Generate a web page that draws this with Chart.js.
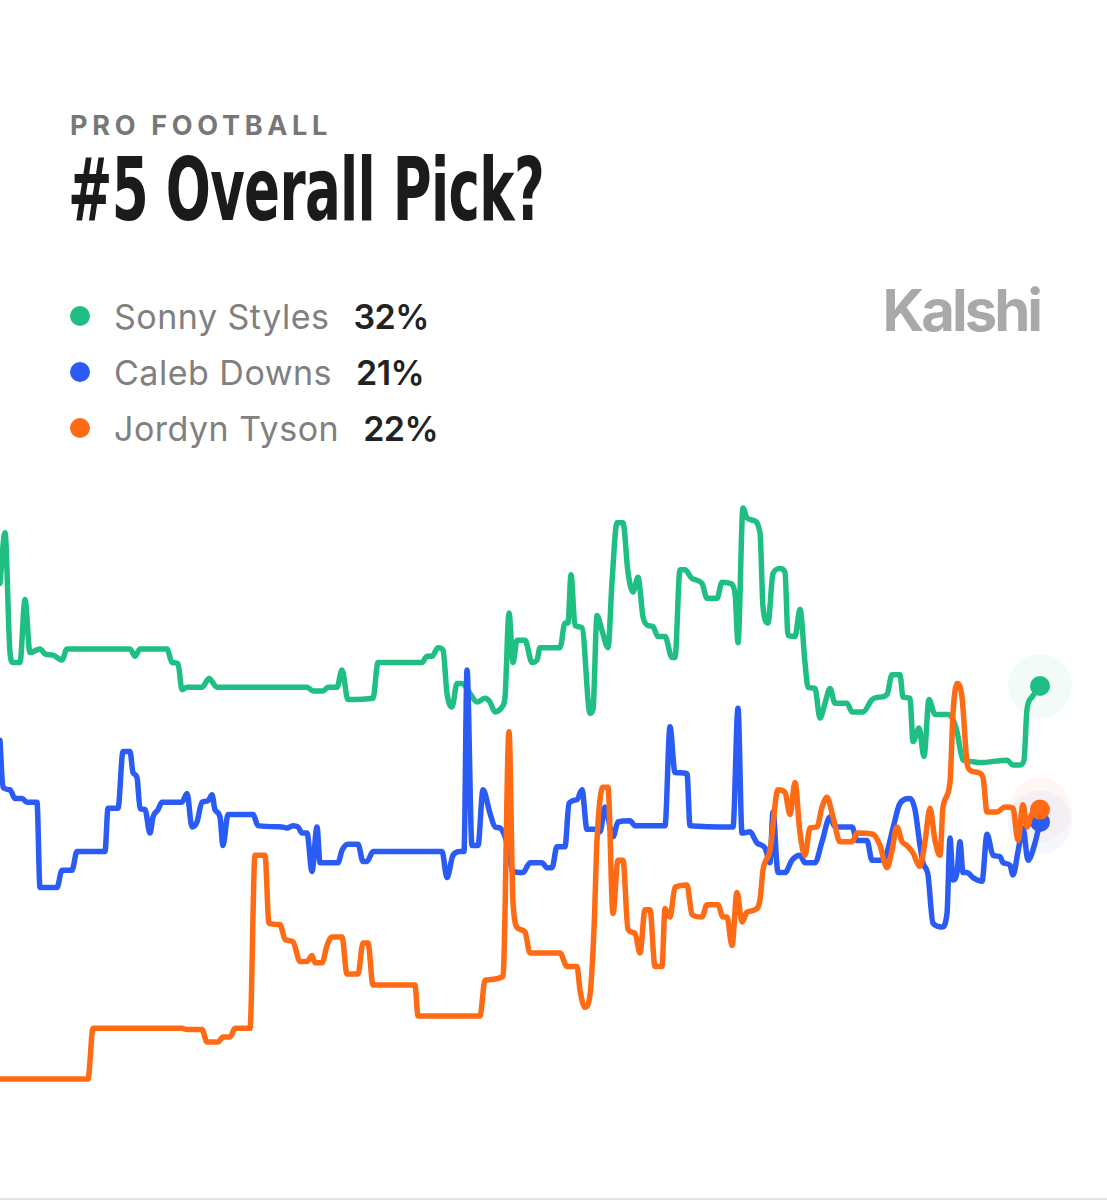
<!DOCTYPE html>
<html lang="en">
  <head>
    <meta charset="UTF-8" />
    <title>#5 Overall Pick?</title>
    <style>
      body {
        margin: 0;
        background: #fff;
        width: 1107px;
        height: 1200px;
        overflow: hidden;
        position: relative;
        font-family: Inter, "Noto Sans", sans-serif;
      }
      .kicker {
        position: absolute;
        left: 70px;
        top: 112px;
        font-size: 27px;
        font-weight: 700;
        letter-spacing: 4.7px;
        color: #777;
        line-height: 1;
      }
      .title {
        position: absolute;
        left: 68px;
        top: 146px;
        font-family: "Liberation Sans Narrow", "DejaVu Sans Condensed", sans-serif;
        font-size: 88px;
        font-weight: 700;
        letter-spacing: -1px;
        color: #1b1b1b;
        line-height: 1;
        transform: scaleX(0.67);
        transform-origin: left top;
        white-space: nowrap;
      }
      .legend {
        position: absolute;
        left: 70px;
        top: 288px;
      }
      .row {
        display: flex;
        align-items: center;
        height: 56px;
      }
      .dot {
        width: 20px;
        height: 20px;
        border-radius: 50%;
        margin-right: 24px;
      }
      .name {
        font-size: 34px;
        color: #808080;
        letter-spacing: 0.5px;
        margin-right: 24px;
      }
      .pct {
        font-size: 34px;
        font-weight: 600;
        letter-spacing: -0.5px;
        color: #222;
      }
      .brand {
        position: absolute;
        right: 67px;
        top: 281px;
        font-size: 58px;
        font-weight: 700;
        letter-spacing: -3px;
        color: #a9a9a9;
        line-height: 1;
      }
      #chart {
        position: absolute;
        left: 0;
        top: 0;
      }
      .edge {
        position: absolute;
        left: 0;
        right: 0;
        bottom: 0;
        height: 2px;
        background: #e4e4e4;
      }
    </style>
  </head>
  <body>
    <div class="kicker">PRO FOOTBALL</div>
    <div class="title">#5 Overall Pick?</div>
    <div class="legend" id="legend"></div>
    <div class="brand">Kalshi</div>
    <canvas id="chart" width="1107" height="1200"></canvas>
    <div class="edge"></div>

    <script src="https://cdn.jsdelivr.net/npm/chart.js@4.4.1/dist/chart.umd.min.js"></script>
    <script>
      // names and latest odds (%)
      const names = ['Sonny Styles', 'Caleb Downs', 'Jordyn Tyson'];
      const latest = [32, 21, 22];
      const colors = ['#1fbf84', '#2a5cf5', '#ff6b14'];

      // [time step, chance %]
      const sonnyStyles = [
        [0,40.3],[5,44.4],[10,34.7],[13,33.9],[20,33.9],[25,39.0],[30,34.7],[40,35.0],[45,34.6],[53,34.5],
        [62,34.1],[67,35.0],[130,35.0],[135,34.4],[140,35.0],[167,35.0],[172,33.9],[178,33.8],[182,31.7],
        [187,31.9],[202,31.9],[209,32.6],[217,31.9],[307,31.9],[313,31.6],[323,31.6],[328,31.9],[337,31.9],
        [342,33.3],[348,30.9],[373,31.0],[378,33.9],[422,33.9],[427,34.4],[432,34.4],[438,35.1],[443,34.9],
        [447,31.4],[452,30.3],[457,32.2],[462,32.2],[470,31.4],[477,30.7],[485,31.0],[490,30.7],[495,29.9],
        [502,30.3],[505,31.1],[509,37.9],[513,33.9],[517,35.7],[525,35.7],[532,33.9],[537,34.1],[540,35.1],
        [560,35.1],[565,37.1],[568,37.1],[571,41.0],[575,36.9],[582,36.7],[590,29.8],[593,30.1],[597,37.7],
        [602,36.5],[608,35.1],[612,40.4],[617,45.2],[623,45.2],[628,41.2],[633,39.6],[638,40.8],[643,37.6],
        [648,36.9],[653,36.8],[658,36.0],[665,36.0],[672,34.3],[675,34.3],[680,41.4],[685,41.4],[692,40.7],
        [702,40.3],[707,39.1],[717,39.1],[722,40.4],[730,40.3],[735,39.5],[738,35.5],[743,46.4],[747,45.6],
        [753,45.4],[760,44.4],[763,38.4],[768,37.1],[773,41.1],[780,41.5],[785,41.2],[788,36.1],[795,36.0],
        [800,38.2],[805,33.9],[808,31.9],[815,31.8],[820,29.4],[825,30.6],[830,31.8],[835,30.6],[847,30.6],
        [852,29.9],[863,29.9],[872,30.9],[880,31.1],[887,31.3],[892,32.9],[900,32.9],[903,31.1],[910,31.0],
        [913,27.5],[919,28.6],[924,26.3],[929,30.9],[935,29.7],[948,29.7],[953,29.3],[957,28.3],[963,26.0],
        [970,25.9],[980,25.8],[1007,26.0],[1013,25.6],[1020,25.6],[1024,26.0],[1027,30.1],[1032,31.1],[1040,32.0]
      ];
      const calebDowns = [
        [0,27.6],[3,23.8],[10,23.6],[15,22.9],[22,22.9],[27,22.6],[37,22.6],[40,15.7],[57,15.7],[62,17.1],
        [72,17.1],[77,18.6],[105,18.6],[108,22.1],[118,22.1],[123,26.7],[130,26.7],[133,25.0],[137,24.6],
        [140,22.1],[145,22.0],[150,20.1],[153,21.4],[158,22.0],[162,22.6],[182,22.6],[187,23.3],[192,20.6],
        [197,21.0],[202,22.6],[208,22.7],[212,23.2],[215,22.0],[220,21.4],[223,19.1],[228,21.6],[253,21.6],
        [258,20.7],[282,20.6],[287,20.5],[293,20.7],[298,20.6],[302,20.1],[307,20.1],[312,17.0],[317,20.6],
        [320,17.7],[338,17.7],[342,18.7],[348,19.2],[358,19.2],[363,17.8],[367,17.8],[373,18.6],[442,18.6],
        [447,16.5],[453,18.3],[460,18.6],[464,18.6],[467,33.3],[472,19.1],[478,19.1],[483,23.6],[490,21.7],
        [495,20.6],[500,20.5],[507,19.3],[513,17.0],[523,16.9],[530,17.7],[542,17.7],[547,17.3],[552,17.3],
        [557,19.0],[565,19.0],[569,22.5],[577,22.8],[582,23.6],[587,20.4],[595,20.4],[600,20.2],[605,22.2],
        [613,19.8],[618,21.0],[630,21.1],[635,20.7],[665,20.7],[670,28.7],[675,25.0],[687,24.9],[690,20.7],
        [733,20.6],[738,30.2],[742,20.1],[750,20.2],[757,19.3],[765,18.9],[770,17.7],[773,21.8],[778,16.9],
        [785,16.9],[792,17.9],[800,18.3],[805,17.7],[815,17.7],[822,19.4],[830,21.4],[835,20.6],[852,20.6],
        [857,19.5],[867,19.5],[872,17.9],[880,17.9],[885,18.1],[893,20.5],[900,22.5],[910,22.9],[915,22.0],
        [920,19.1],[923,17.7],[928,16.7],[933,12.8],[942,12.5],[947,13.6],[950,19.7],[953,16.3],[957,16.9],
        [960,19.4],[963,16.9],[967,16.9],[973,16.5],[982,16.2],[987,20.0],[993,18.3],[1000,18.2],[1003,17.7],
        [1010,17.5],[1013,16.7],[1018,18.6],[1023,20.5],[1028,17.9],[1035,19.3],[1040,21.0]
      ];
      const jordynTyson = [
        [0,0.2],[88,0.2],[93,4.3],[182,4.3],[187,4.2],[202,4.2],[207,3.2],[218,3.2],[223,3.6],[230,3.6],
        [235,4.3],[250,4.3],[255,18.3],[265,18.3],[269,12.8],[280,12.7],[285,11.5],[293,11.3],[300,9.7],
        [307,9.7],[312,10.2],[315,9.6],[322,9.6],[327,11.0],[332,11.7],[342,11.7],[347,8.7],[358,8.7],
        [363,11.2],[368,11.2],[373,7.8],[415,7.8],[418,5.3],[480,5.3],[485,8.2],[503,8.5],[509,28.3],
        [513,14.5],[518,12.4],[525,12.1],[530,10.4],[560,10.4],[567,9.3],[577,9.3],[580,7.4],[585,6.0],
        [590,7.0],[594,12.3],[597,19.5],[603,23.8],[608,23.8],[613,13.6],[618,17.9],[623,17.9],[628,12.3],
        [635,12.0],[640,10.4],[645,13.9],[650,13.9],[655,9.3],[662,9.3],[665,14.0],[670,13.3],[675,15.7],
        [687,15.9],[692,13.5],[702,13.3],[707,14.3],[718,14.3],[723,13.3],[727,13.3],[732,11.0],[737,15.3],
        [742,12.9],[747,13.7],[755,13.9],[760,14.7],[763,17.1],[770,18.7],[778,23.6],[785,23.4],[790,21.6],
        [795,24.2],[800,20.1],[805,18.3],[810,20.5],[817,20.6],[822,22.2],[827,23.0],[833,21.4],[840,19.4],
        [852,19.4],[857,20.1],[873,20.0],[880,19.1],[887,17.3],[892,18.7],[897,20.6],[902,19.4],[907,19.1],
        [913,18.5],[920,17.4],[925,19.4],[930,22.1],[935,19.5],[940,18.3],[943,22.2],[950,24.2],[953,29.8],
        [957,32.2],[962,31.1],[967,25.8],[970,25.2],[978,25.0],[983,24.6],[987,21.8],[997,21.8],[1005,22.2],
        [1013,22.1],[1018,19.5],[1023,22.4],[1027,20.6],[1032,21.7],[1040,22.0]
      ];
      const series = [sonnyStyles, calebDowns, jordynTyson];

      // legend
      const legendEl = document.getElementById('legend');
      names.forEach((n, i) => {
        const row = document.createElement('div');
        row.className = 'row';
        row.innerHTML =
          '<span class="dot" style="background:' + colors[i] + '"></span>' +
          '<span class="name">' + n + '</span>' +
          '<span class="pct">' + latest[i] + '%</span>';
        legendEl.appendChild(row);
      });

      function hexA(hex, a) {
        const v = parseInt(hex.slice(1), 16);
        return 'rgba(' + (v >> 16) + ',' + ((v >> 8) & 255) + ',' + (v & 255) + ',' + a + ')';
      }

      const lineOrder = [2, 1, 0]; // orange on top, then blue, then green
      const datasets = [];
      series.forEach((s, i) => {
        const pts = s.map((p) => ({ x: p[0], y: p[1] }));
        datasets.push({
          type: 'line',
          label: names[i],
          data: pts,
          borderColor: colors[i],
          backgroundColor: colors[i],
          borderWidth: 5.5,
          cubicInterpolationMode: 'monotone',
          pointRadius: (c) => (c.dataIndex === pts.length - 1 ? 10 : 0),
          pointBorderWidth: 0,
          pointHoverRadius: 0,
          borderJoinStyle: 'round',
          borderCapStyle: 'round',
          order: lineOrder[i],
          clip: false,
        });
        // soft halo behind the latest value
        datasets.push({
          type: 'scatter',
          data: [pts[pts.length - 1]],
          backgroundColor: hexA(colors[i], i === 0 ? 0.06 : 0.05),
          borderWidth: 0,
          pointRadius: 32,
          pointHoverRadius: 32,
          order: 5 + i,
          clip: false,
        });
      });

      new Chart(document.getElementById('chart'), {
        data: { datasets: datasets },
        options: {
          responsive: false,
          animation: false,
          events: [],
          layout: { autoPadding: false, padding: { left: 0, right: 67, top: 463.5, bottom: 118.5 } },
          plugins: { legend: { display: false }, tooltip: { enabled: false } },
          scales: {
            x: { type: 'linear', min: 0, max: 1040, display: false },
            y: { type: 'linear', min: 0, max: 50, display: false },
          },
        },
      });
    </script>
  </body>
</html>
